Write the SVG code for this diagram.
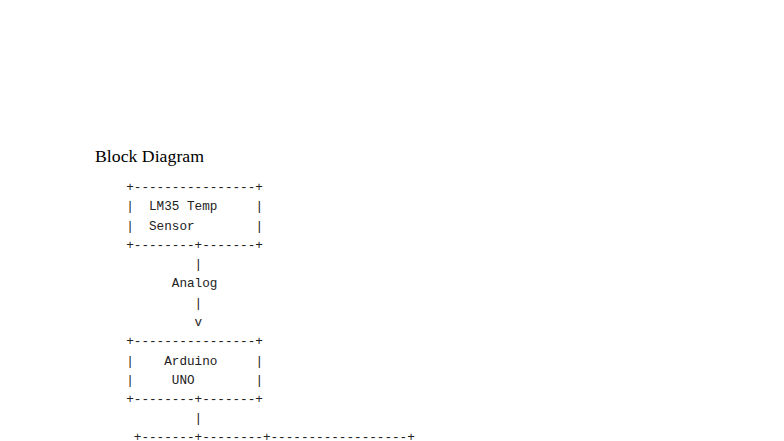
<svg xmlns="http://www.w3.org/2000/svg" width="784" height="441" viewBox="0 0 784 441">
<style>
.t{font-family:"Liberation Serif","Times New Roman",serif;font-size:16.5px;fill:#000}
.m{font-family:"Liberation Mono","DejaVu Sans Mono",monospace;font-size:12.67px;fill:#222}
</style>
<rect width="784" height="441" fill="#fff"/>
<g id="title"><text class="t" x="95" y="162" textLength="109" lengthAdjust="spacingAndGlyphs">Block Diagram</text></g>
<g id="sensor" class="m">
<text x="126.2" y="191">+----------------+</text>
<text x="126.2" y="210.3">|</text><text x="149" y="210.3">LM35 Temp</text><text x="255.4" y="210.3">|</text>
<text x="126.2" y="229.6">|</text><text x="149" y="229.6">Sensor</text><text x="255.4" y="229.6">|</text>
<text x="126.2" y="248.8">+--------+-------+</text>
</g>
<g id="connectors" class="m">
<text x="194.6" y="268.1">|</text>
<text x="171.8" y="287.4">Analog</text>
<text x="194.6" y="306.7">|</text>
<text x="194.6" y="326">v</text>
<text x="194.6" y="422.4">|</text>
</g>
<g id="arduino" class="m">
<text x="126.2" y="345.2">+----------------+</text>
<text x="126.2" y="364.5">|</text><text x="164.2" y="364.5">Arduino</text><text x="255.4" y="364.5">|</text>
<text x="126.2" y="383.8">|</text><text x="171.8" y="383.8">UNO</text><text x="255.4" y="383.8">|</text>
<text x="126.2" y="403.1">+--------+-------+</text>
</g>
<g id="bus" class="m">
<text x="133.8" y="441">+-------+--------+------------------+</text>
</g>
</svg>
